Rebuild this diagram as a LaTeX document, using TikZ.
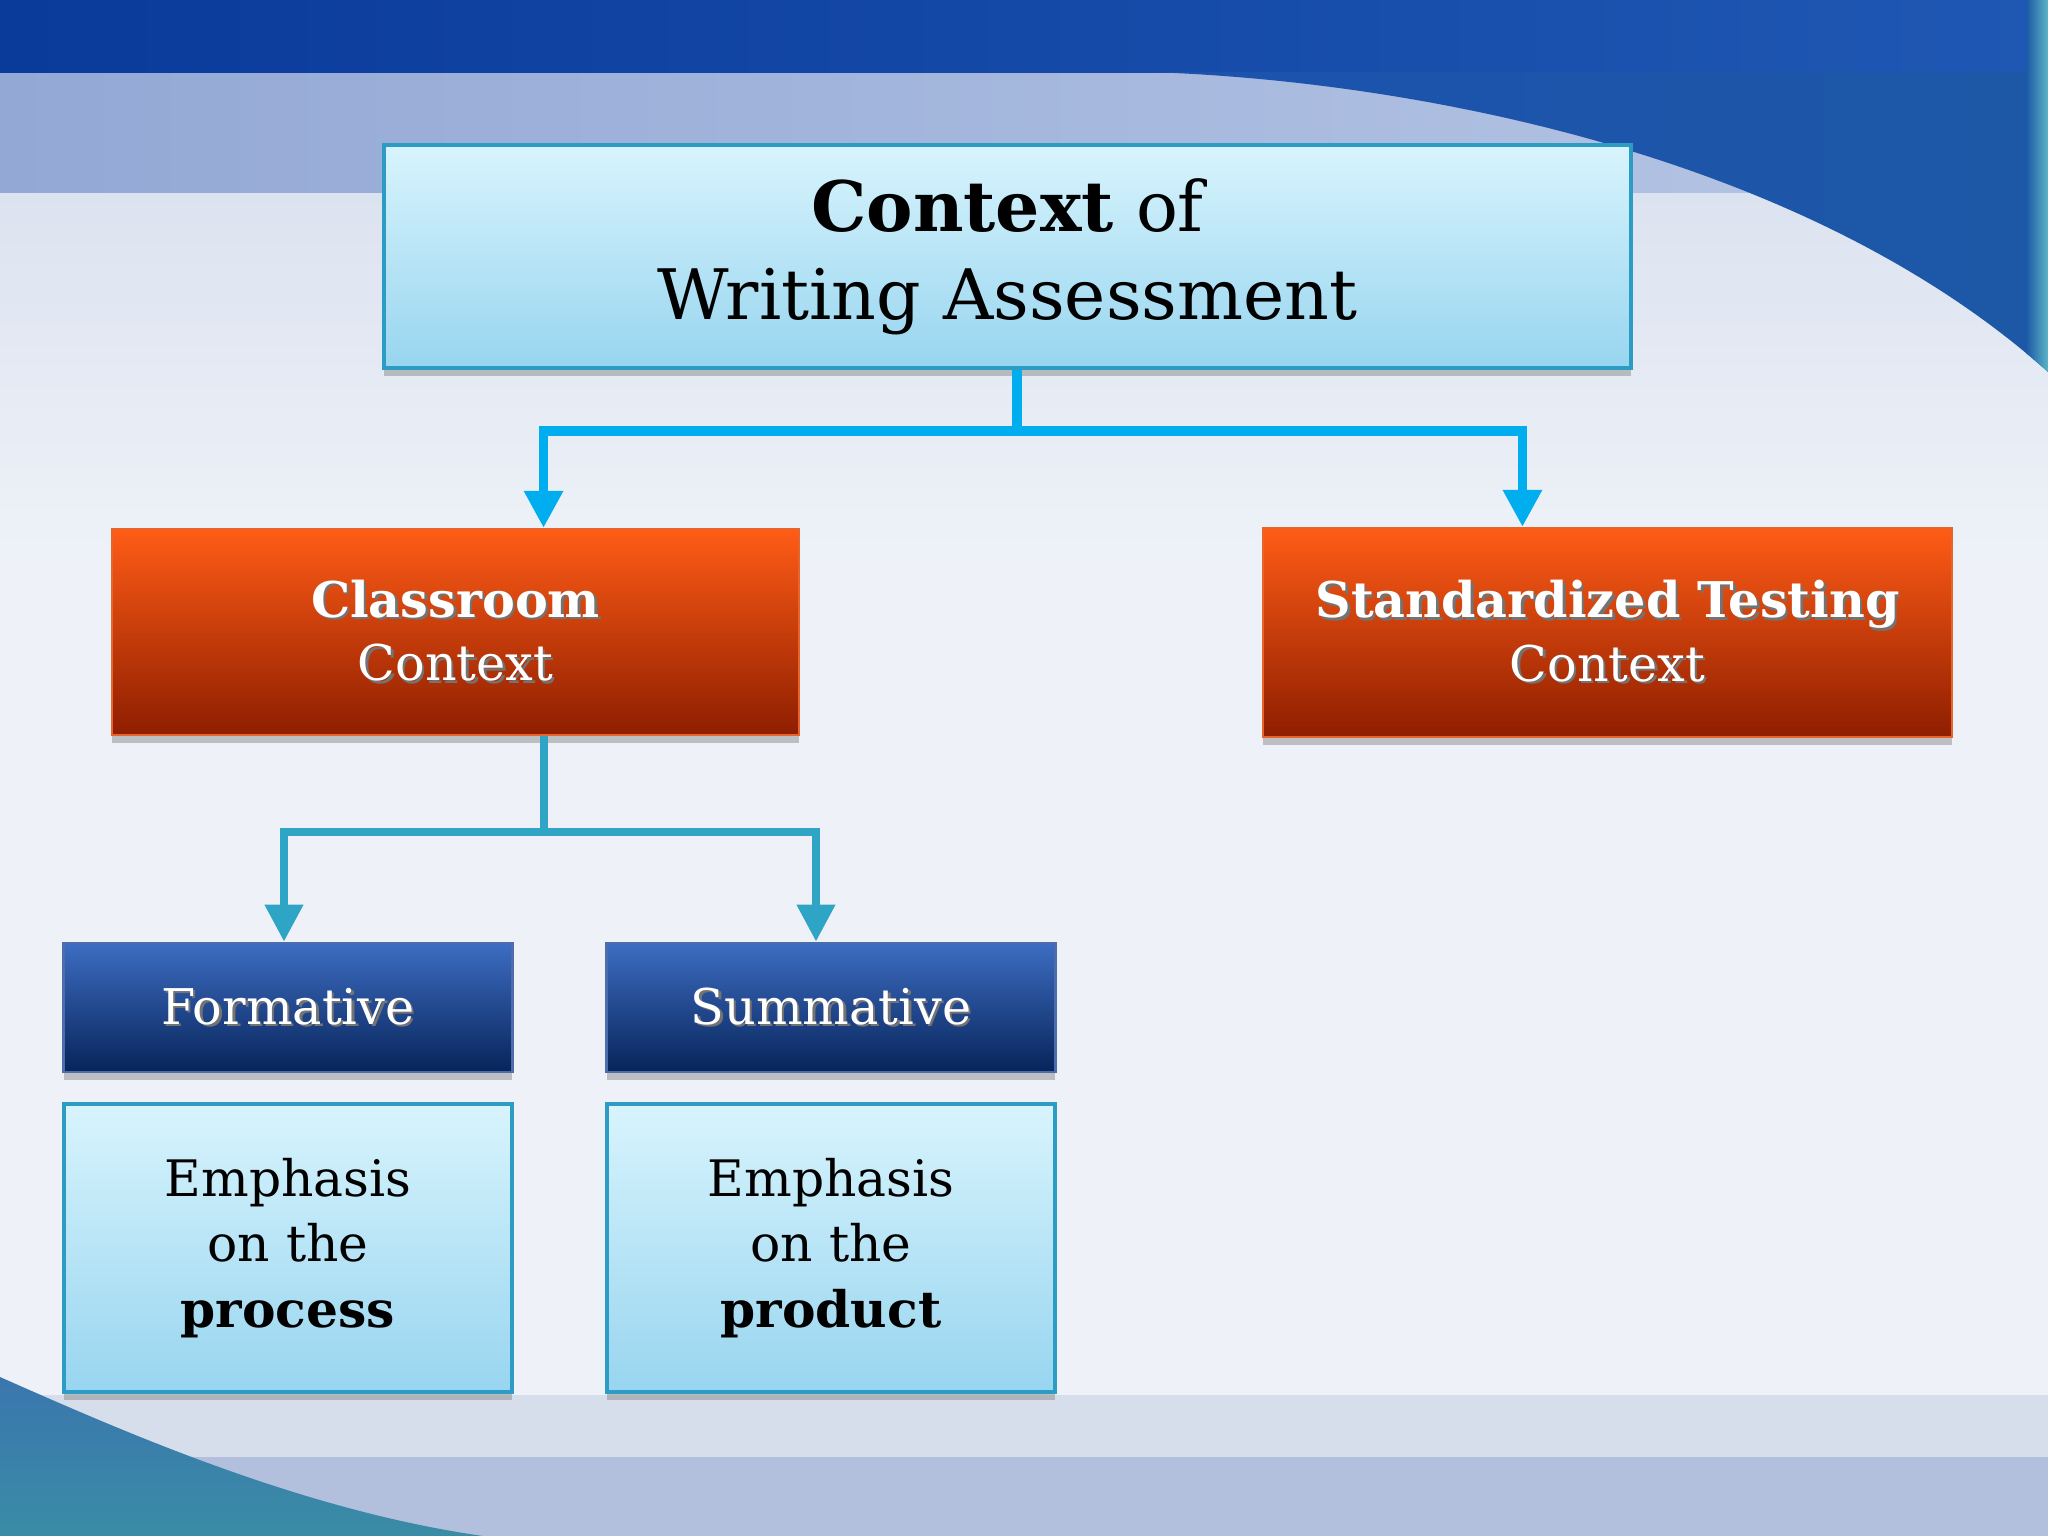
\documentclass[tikz,border=0pt]{standalone}
\usepackage{fontspec}
\setmainfont{DejaVu Serif}
\usetikzlibrary{arrows.meta,shadows}

\definecolor{bgpale}{HTML}{EEF2F8}
\definecolor{bgmist}{HTML}{DCE3F0}
\definecolor{bandL}{HTML}{93A8D5}
\definecolor{bandR}{HTML}{B6C6E5}
\definecolor{topL}{HTML}{0A3A9A}
\definecolor{topR}{HTML}{1F58B4}
\definecolor{sweepL}{HTML}{1C52AE}
\definecolor{sweepR}{HTML}{1D58A6}
\definecolor{sweepedge}{HTML}{5BB5C6}
\definecolor{footA}{HTML}{D6DEEC}
\definecolor{footB}{HTML}{B2C0DE}
\definecolor{cornerA}{HTML}{3A76AE}
\definecolor{cornerB}{HTML}{3A8CA6}
\definecolor{paletop}{HTML}{D8F4FD}
\definecolor{palebot}{HTML}{98D5EF}
\definecolor{paleline}{HTML}{2C9CC4}
\definecolor{hottop}{HTML}{FF5C16}
\definecolor{hotbot}{HTML}{8E1E00}
\definecolor{hotline}{HTML}{E8642A}
\definecolor{navytop}{HTML}{3D6DC2}
\definecolor{navybot}{HTML}{07245A}
\definecolor{navyline}{HTML}{4D6CAE}
\definecolor{linkcyan}{HTML}{00AEEF}
\definecolor{linkteal}{HTML}{2FA5C5}

\newcommand\shd[2][black!55]{\leavevmode\rlap{\kern0.7pt\raisebox{-0.7pt}{\color{#1}#2}}#2}

\begin{document}
\begin{tikzpicture}[x=0.01cm, y=-0.01cm,
  box/.style={rectangle, inner sep=0pt, align=center,
    drop shadow={shadow xshift=0pt, shadow yshift=-0.08cm, opacity=0.45}},
  pale/.style={box, top color=paletop, bottom color=palebot, draw=paleline, line width=1.2pt},
  hot/.style={box, top color=hottop, bottom color=hotbot, draw=hotline, line width=0.6pt, text=white},
  navy/.style={box, top color=navytop, bottom color=navybot, draw=navyline, line width=0.8pt, text=white},
  big/.style={font=\fontsize{19.8pt}{25pt}\selectfont},
  mid/.style={font=\fontsize{14pt}{18pt}\selectfont},
  link/.style={line width=#1, line join=miter, -{Triangle[length=0.37cm, width=0.37cm]}},
  stem/.style={line width=#1}]

  \useasboundingbox (0,0) rectangle (2048,1536);
  \fill[bgpale] (0,0) rectangle (2048,1536);
  \shade[top color=bgmist, bottom color=bgpale] (0,192) rectangle (2048,560);
  \shade[left color=bandL, right color=bandR] (0,72) rectangle (2048,192);
  \shade[left color=topL, right color=topR] (0,0) rectangle (2048,72);
  \begin{scope}
    \clip (1149,72) .. controls (1400,80) and (1800,150) .. (2048,372) -- (2048,0) -- (1149,0) -- cycle;
    \shade[left color=sweepL, right color=sweepR] (1149,72) rectangle (2048,372);
    \shade[left color=sweepR, right color=sweepedge] (2026,0) rectangle (2048,372);
  \end{scope}
  \fill[footA] (0,1395) rectangle (2048,1457);
  \fill[footB] (0,1457) rectangle (2048,1536);
  \shade[top color=cornerA, bottom color=cornerB] (0,1377) .. controls (120,1430) and (300,1510) .. (483,1536)
    -- (0,1536) -- cycle;

  \node[pale, big, minimum width=12.47cm, minimum height=2.23cm] (head) at (1007.5,256.5)
    {\textbf{Context} of\\Writing Assessment};
  \node[hot, mid, minimum width=6.87cm, minimum height=2.06cm] (class) at (455.5,632)
    {\shd{\textbf{Classroom}}\\\shd{Context}};
  \node[hot, mid, minimum width=6.89cm, minimum height=2.09cm] (std) at (1607.5,632.5)
    {\shd{\textbf{Standardized Testing}}\\\shd{Context}};
  \node[navy, mid, minimum width=4.48cm, minimum height=1.29cm] (form) at (288,1007.5) {\shd{Formative}};
  \node[navy, mid, minimum width=4.48cm, minimum height=1.29cm] (summ) at (831,1007.5) {\shd{Summative}};
  \node[pale, font=\fontsize{14.3pt}{18.6pt}\selectfont, minimum width=4.48cm, minimum height=2.88cm] (proc)
    at (288,1248) {Emphasis\\on the\\\textbf{process}};
  \node[pale, font=\fontsize{14.3pt}{18.6pt}\selectfont, minimum width=4.48cm, minimum height=2.88cm] (prod)
    at (831,1248) {Emphasis\\on the\\\textbf{product}};

  \coordinate (j1) at (1017,431);
  \coordinate (j2) at (544,832);
  \draw[linkcyan, stem=2.6pt] (head.south -| j1) -- (j1);
  \draw[linkcyan, link=2.6pt] (j1) -| ([xshift=0.88cm]class.north);
  \draw[linkcyan, link=2.6pt] (j1) -| ([xshift=-0.85cm]std.north);
  \draw[linkteal, stem=2.2pt] (class.south -| j2) -- (j2);
  \draw[linkteal, link=2.2pt] (j2) -| ([xshift=-0.04cm]form.north);
  \draw[linkteal, link=2.2pt] (j2) -| ([xshift=-0.15cm]summ.north);
\end{tikzpicture}
\end{document}
